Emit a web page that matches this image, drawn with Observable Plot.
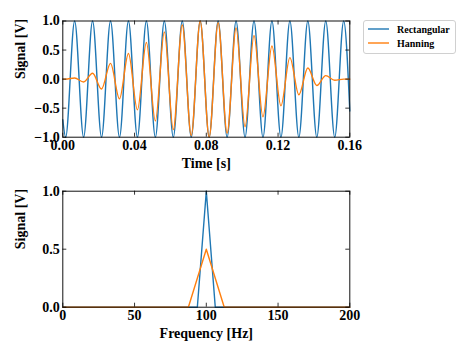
<!DOCTYPE html>
<html>
<head>
<meta charset="utf-8">
<script src="https://cdn.jsdelivr.net/npm/d3@7"></script>
<script src="https://cdn.jsdelivr.net/npm/@observablehq/plot@0.6"></script>
<style>
  html, body { margin: 0; padding: 0; background: #fff; }
  #wrap { position: relative; width: 474px; height: 355px; overflow: hidden; font-family: "Liberation Serif", Tinos, "Times New Roman", "DejaVu Serif", serif; font-weight: bold; }
  #top, #bottom { position: absolute; left: 0; }
  #top { top: 0; }
  #bottom { top: 175px; }
  #legend { position: absolute; left: 363px; top: 20px; width: 91px; height: 32px; border: 1px solid #d0d0d0; border-radius: 3px; background: #fff; font-size: 10px; }
  .row { position: absolute; left: 4px; height: 14px; display: flex; align-items: center; }
  .row svg { display: block; }
  .row span { margin-left: 8px; }
  svg text { font-family: "Liberation Serif", Tinos, "Times New Roman", "DejaVu Serif", serif; }
</style>
</head>
<body>
<div id="wrap">
  <div id="top"></div>
  <div id="bottom"></div>
  <div id="legend"></div>
</div>
<script>
// ---------- data ----------
const seriesNames = ["Rectangular", "Hanning"];
const seriesColors = ["#1f77b4", "#ff7f0e"];

// time-domain signal: extrema (plus the two end points)
const timeS = [0, 0.0016, 0.0066, 0.0116, 0.0166, 0.0216, 0.0266, 0.0316, 0.0366, 0.0416,
  0.0466, 0.0516, 0.0566, 0.0616, 0.0666, 0.0716, 0.0766, 0.0816, 0.0866, 0.0916,
  0.0966, 0.1016, 0.1066, 0.1116, 0.1166, 0.1216, 0.1266, 0.1316, 0.1366, 0.1416,
  0.1466, 0.1516, 0.1566, 0.16];
const rectSignal = [-0.7, -1, 1, -1, 1, -1, 1, -1, 1, -1,
  1, -1, 1, -1, 1, -1, 1, -1, 1, -1,
  1, -1, 1, -1, 1, -1, 1, -1, 1, -1,
  1, -1, 1, -0.55];
const hannSignal = [0, 0, 0.02, -0.05, 0.1, -0.17, 0.27, -0.34, 0.44, -0.53,
  0.63, -0.72, 0.81, -0.87, 0.93, -0.97, 1.0, -1.0, 0.97, -0.93,
  0.88, -0.82, 0.75, -0.65, 0.57, -0.46, 0.37, -0.27, 0.19, -0.11,
  0.06, -0.02, 0.0, 0];

// spectrum
const freqHz = [0, 87.5, 93.75, 100, 106.25, 112.5, 200];
const rectSpectrum = [0, 0, 0, 1, 0, 0, 0];
const hannSpectrum = [0, 0, 0.25, 0.5, 0.25, 0, 0];

// axes
const timeTicks = [0, 0.04, 0.08, 0.12, 0.16];
const signalTicks = [-1, -0.5, 0, 0.5, 1];
const freqTicks = [0, 50, 100, 150, 200];
const ampTicks = [0, 0.5, 1];
const labels = { time: "Time [s]", freq: "Frequency [Hz]", signal: "Signal [V]" };

// ---------- build tables ----------
const timeRows = [];
timeS.forEach((t, i) => timeRows.push({ t, v: rectSignal[i], s: seriesNames[0] }));
timeS.forEach((t, i) => timeRows.push({ t, v: hannSignal[i], s: seriesNames[1] }));
const freqRows = [];
freqHz.forEach((f, i) => freqRows.push({ f, v: rectSpectrum[i], s: seriesNames[0] }));
freqHz.forEach((f, i) => freqRows.push({ f, v: hannSpectrum[i], s: seriesNames[1] }));

const W = 474, ML = 62.3, MR = 474 - 349.3;
const TL = 4; // inward tick length
const FONT = "'Liberation Serif', Tinos, 'Times New Roman', 'DejaVu Serif', serif";
const style = { fontFamily: FONT, fontWeight: "bold", fontSize: "14px", color: "#000", background: "transparent", overflow: "visible" };

function inwardTicks(xt, yt, ph, pw) {
  const st = { stroke: "#000", strokeWidth: 0.8 };
  return [
    Plot.tickX(xt, { x: d => d, insetTop: ph - TL, ...st }),
    Plot.tickX(xt, { x: d => d, insetBottom: ph - TL, ...st }),
    Plot.tickY(yt, { y: d => d, insetLeft: pw - TL, ...st }),
    Plot.tickY(yt, { y: d => d, insetRight: pw - TL, ...st })
  ];
}

function panel({ data, xKey, xDomain, xTicks, xFmt, yTicks, yFmt, height, mt, mb, xLabel, curve }) {
  const ph = height - mt - mb, pw = W - ML - MR;
  return Plot.plot({
    width: W, height,
    marginLeft: ML, marginRight: MR, marginTop: mt, marginBottom: mb,
    style,
    x: { domain: xDomain },
    y: { domain: [yTicks[0], yTicks[yTicks.length - 1]] },
    color: { domain: seriesNames, range: seriesColors },
    marks: [
      Plot.line(data, { x: xKey, y: "v", stroke: "s", z: "s", strokeWidth: 1.4, curve }),
      Plot.frame({ stroke: "#111", strokeWidth: 1 }),
      ...inwardTicks(xTicks, yTicks, ph, pw),
      Plot.axisX(xTicks, { tickSize: 0, tickPadding: 3, tickFormat: xFmt, label: null, fontSize: 14, fontFamily: FONT }),
      Plot.axisY(yTicks, { tickSize: 0, tickPadding: 3, tickFormat: yFmt, label: null, fontSize: 14, fontFamily: FONT }),
      Plot.text([xLabel], { text: d => d, frameAnchor: "bottom", dy: 26, lineAnchor: "middle", fontSize: 14, fontFamily: FONT }),
      Plot.text([labels.signal], { text: d => d, frameAnchor: "left", dx: -42, rotate: -90, lineAnchor: "middle", fontSize: 14, fontFamily: FONT })
    ]
  });
}

const topChart = panel({
  data: timeRows, xKey: "t", xDomain: [0, 0.16], xTicks: timeTicks, xFmt: d3.format(".2f"),
  yTicks: signalTicks, yFmt: d3.format(".1f"), height: 175, mt: 20.5, mb: 38.3,
  xLabel: labels.time, curve: "monotone-x"
});
const bottomChart = panel({
  data: freqRows, xKey: "f", xDomain: [0, 200], xTicks: freqTicks, xFmt: d3.format("d"),
  yTicks: ampTicks, yFmt: d3.format(".1f"), height: 180, mt: 15.7, mb: 48.3,
  xLabel: labels.freq, curve: "linear"
});
document.getElementById("top").appendChild(topChart);
document.getElementById("bottom").appendChild(bottomChart);

// legend
const legend = document.getElementById("legend");
seriesNames.forEach((name, i) => {
  const row = document.createElement("div");
  row.className = "row";
  row.style.top = (1 + i * 14) + "px";
  row.innerHTML = `<svg width="21" height="4"><line x1="0" x2="21" y1="2" y2="2" stroke="${seriesColors[i]}" stroke-width="1.4"/></svg><span>${name}</span>`;
  legend.appendChild(row);
});
</script>
</body>
</html>
